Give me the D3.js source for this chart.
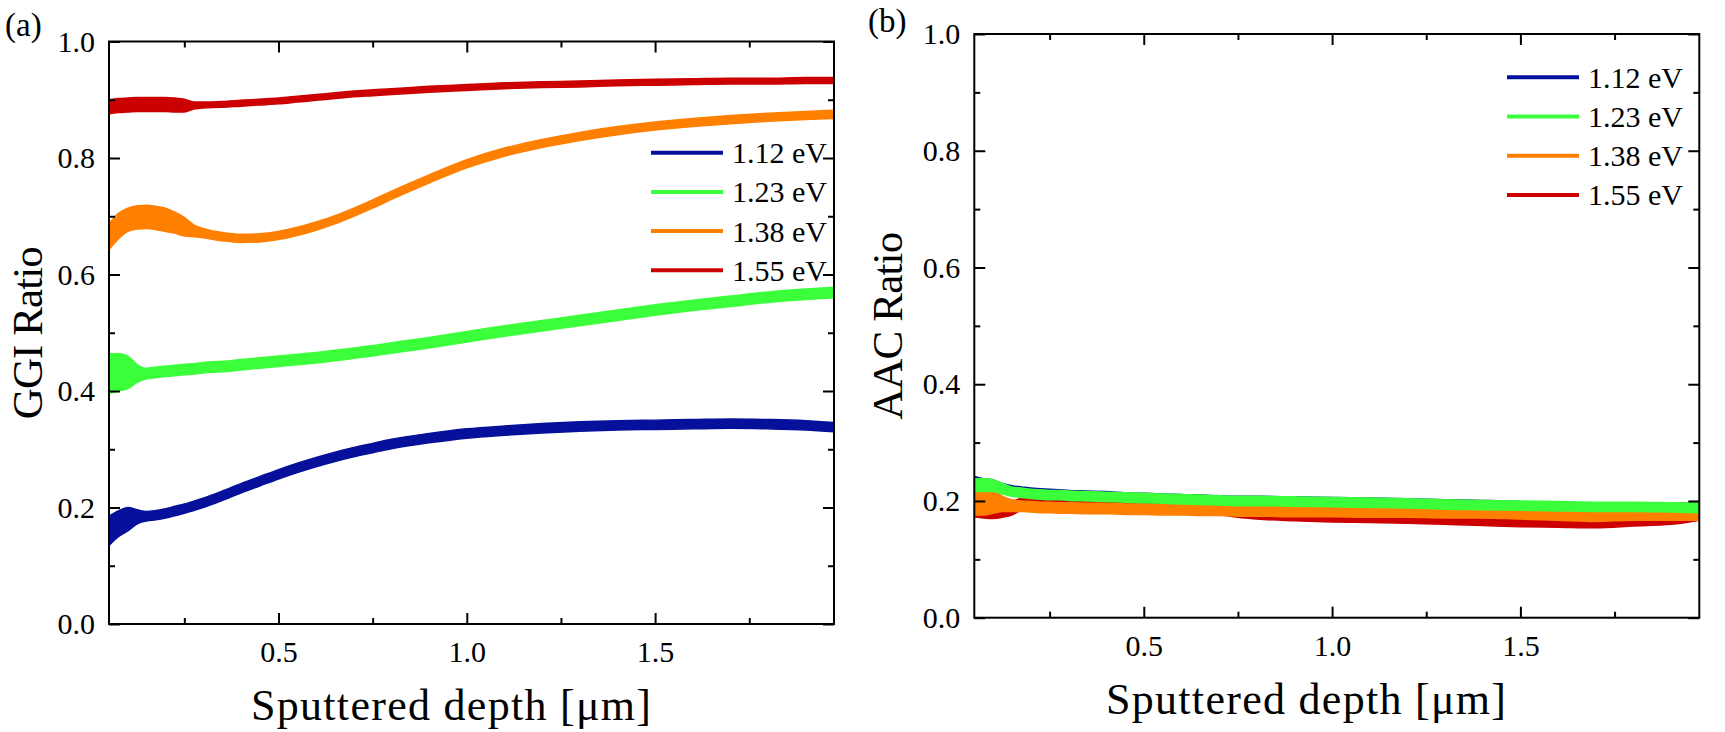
<!DOCTYPE html>
<html>
<head>
<meta charset="utf-8">
<script src="https://cdn.jsdelivr.net/npm/d3@7/dist/d3.min.js"></script>
<style>
  body { margin: 0; background: #fff; }
  svg text { font-family: "Liberation Serif", "Times New Roman", serif; fill: #000; }
</style>
</head>
<body>
<div id="chart"></div>
<script>
// Depth-profile ratios (GGI and AAC) for four band-gap samples
// Each series: centre value + half-width of the noisy band

// Sputtered depth [um] sample positions shared by every series
const depth = [0.05, 0.075, 0.1, 0.125, 0.15, 0.175, 0.2, 0.225, 0.25, 0.275, 0.3, 0.35, 0.4, 0.45, 0.5,
    0.55, 0.6, 0.65, 0.7, 0.75, 0.8, 0.9, 1.0, 1.1, 1.2, 1.3, 1.4, 1.5, 1.6, 1.7, 1.8, 1.9, 1.975];

const seriesNames = ["1.12 eV", "1.23 eV", "1.38 eV", "1.55 eV"];
const seriesColors = ["#06109a", "#3cff3c", "#ff8000", "#cc0000"];

// (a) GGI ratio
const ggi112 = [0.160, 0.172, 0.180, 0.184, 0.185, 0.187, 0.190, 0.194, 0.198, 0.203, 0.208, 0.220, 0.233, 0.245, 0.257,
    0.268, 0.278, 0.287, 0.295, 0.302, 0.309, 0.319, 0.327, 0.332, 0.336, 0.339, 0.341, 0.342, 0.343, 0.344, 0.343, 0.341, 0.338];
const ggi123 = [0.430, 0.432, 0.432, 0.430, 0.430, 0.432, 0.434, 0.435, 0.437, 0.438, 0.440, 0.442, 0.445, 0.448, 0.451,
    0.454, 0.457, 0.461, 0.465, 0.469, 0.474, 0.483, 0.493, 0.503, 0.512, 0.521, 0.530, 0.539, 0.547, 0.554, 0.561, 0.566, 0.569];
const ggi138 = [0.665, 0.683, 0.694, 0.698, 0.699, 0.697, 0.694, 0.689, 0.682, 0.675, 0.671, 0.665, 0.662, 0.663, 0.667,
    0.674, 0.683, 0.694, 0.707, 0.721, 0.736, 0.764, 0.790, 0.810, 0.825, 0.837, 0.847, 0.855, 0.861, 0.866, 0.870, 0.873, 0.875];
const ggi155 = [0.888, 0.890, 0.891, 0.892, 0.892, 0.892, 0.892, 0.891, 0.890, 0.890, 0.891, 0.892, 0.894, 0.896, 0.898,
    0.901, 0.904, 0.907, 0.910, 0.912, 0.914, 0.918, 0.921, 0.924, 0.926, 0.927, 0.929, 0.930, 0.931, 0.932, 0.932, 0.933, 0.933];

const ggiNoise112 = [0.025, 0.022, 0.020, 0.012, 0.008, 0.008, 0.008, 0.008, 0.008, 0.008, 0.008, 0.008, 0.008, 0.008, 0.008,
    0.008, 0.008, 0.008, 0.008, 0.008, 0.008, 0.008, 0.008, 0.008, 0.008, 0.008, 0.008, 0.008, 0.008, 0.008, 0.008, 0.008, 0.008];
const ggiNoise123 = [0.034, 0.032, 0.028, 0.015, 0.009, 0.009, 0.009, 0.009, 0.009, 0.009, 0.009, 0.009, 0.009, 0.009, 0.009,
    0.009, 0.009, 0.009, 0.009, 0.009, 0.009, 0.009, 0.009, 0.009, 0.009, 0.009, 0.009, 0.009, 0.009, 0.009, 0.009, 0.009, 0.009];
const ggiNoise138 = [0.022, 0.022, 0.020, 0.020, 0.020, 0.020, 0.020, 0.018, 0.016, 0.010, 0.008, 0.007, 0.007, 0.007, 0.007,
    0.007, 0.007, 0.007, 0.007, 0.007, 0.007, 0.007, 0.007, 0.007, 0.007, 0.007, 0.007, 0.007, 0.007, 0.007, 0.007, 0.007, 0.007];
const ggiNoise155 = [0.012, 0.012, 0.012, 0.012, 0.012, 0.012, 0.012, 0.012, 0.011, 0.006, 0.005, 0.005, 0.005, 0.005, 0.005,
    0.005, 0.005, 0.005, 0.005, 0.005, 0.005, 0.005, 0.005, 0.005, 0.005, 0.005, 0.005, 0.005, 0.005, 0.005, 0.005, 0.005, 0.005];

// (b) AAC ratio
const aac112 = [0.232, 0.228, 0.227, 0.222, 0.218, 0.216, 0.214, 0.213, 0.212, 0.211, 0.210, 0.209, 0.208, 0.206, 0.205,
    0.204, 0.203, 0.202, 0.201, 0.200, 0.200, 0.199, 0.198, 0.197, 0.196, 0.194, 0.193, 0.191, 0.186, 0.185, 0.189, 0.189, 0.188];
const aac123 = [0.227, 0.227, 0.226, 0.221, 0.216, 0.214, 0.212, 0.211, 0.210, 0.210, 0.209, 0.208, 0.207, 0.206, 0.205,
    0.204, 0.203, 0.202, 0.201, 0.200, 0.200, 0.199, 0.198, 0.197, 0.196, 0.194, 0.193, 0.192, 0.191, 0.190, 0.190, 0.189, 0.188];
const aac138 = [0.205, 0.203, 0.199, 0.195, 0.192, 0.191, 0.190, 0.189, 0.189, 0.188, 0.188, 0.187, 0.187, 0.186, 0.186,
    0.185, 0.185, 0.184, 0.184, 0.183, 0.183, 0.182, 0.182, 0.181, 0.181, 0.180, 0.180, 0.178, 0.176, 0.174, 0.176, 0.176, 0.176];
const aac155 = [0.187, 0.185, 0.184, 0.186, 0.188, 0.195, 0.203, 0.203, 0.202, 0.202, 0.201, 0.200, 0.199, 0.197, 0.196,
    0.195, 0.193, 0.190, 0.186, 0.181, 0.178, 0.175, 0.173, 0.172, 0.171, 0.169, 0.167, 0.165, 0.164, 0.163, 0.166, 0.169, 0.176];

const aacNoise112 = [0.010, 0.010, 0.009, 0.008, 0.008, 0.008, 0.008, 0.008, 0.008, 0.008, 0.008, 0.008, 0.008, 0.008, 0.008,
    0.008, 0.008, 0.008, 0.008, 0.008, 0.008, 0.008, 0.008, 0.008, 0.008, 0.008, 0.008, 0.008, 0.008, 0.008, 0.008, 0.008, 0.008];
const aacNoise123 = [0.011, 0.011, 0.010, 0.009, 0.008, 0.008, 0.008, 0.008, 0.008, 0.008, 0.008, 0.008, 0.008, 0.008, 0.008,
    0.008, 0.008, 0.008, 0.008, 0.008, 0.008, 0.008, 0.008, 0.008, 0.008, 0.008, 0.008, 0.008, 0.008, 0.008, 0.008, 0.008, 0.008];
const aacNoise138 = [0.029, 0.027, 0.020, 0.013, 0.010, 0.009, 0.009, 0.009, 0.009, 0.009, 0.009, 0.009, 0.009, 0.009, 0.009,
    0.009, 0.009, 0.009, 0.009, 0.009, 0.009, 0.009, 0.009, 0.009, 0.009, 0.009, 0.009, 0.009, 0.009, 0.009, 0.009, 0.009, 0.009];
const aacNoise155 = [0.014, 0.014, 0.014, 0.014, 0.012, 0.010, 0.009, 0.009, 0.009, 0.009, 0.009, 0.009, 0.009, 0.009, 0.009,
    0.009, 0.009, 0.009, 0.009, 0.009, 0.009, 0.009, 0.009, 0.009, 0.009, 0.009, 0.009, 0.009, 0.009, 0.009, 0.009, 0.009, 0.009];

// Axis ticks
const xMajor = [0.5, 1.0, 1.5];
const xMinor = [0.25, 0.75, 1.25, 1.75];
const yMajor = [0.0, 0.2, 0.4, 0.6, 0.8, 1.0];
const yMinor = [0.1, 0.3, 0.5, 0.7, 0.9];

const width = 1725;
const height = 732;

const svg = d3.select("#chart")
    .append("svg")
    .attr("width", width)
    .attr("height", height);

// Draw one panel of the figure
function drawPanel(p) {
    const x = d3.scaleLinear().domain([0.05, 1.975]).range([p.left, p.right]);
    const y = d3.scaleLinear().domain([0, 1]).range([p.bottom, p.top]);
    const g = svg.append("g");

    // clip so the noisy bands stay inside the frame
    g.append("clipPath").attr("id", "clip-" + p.id)
        .append("rect")
        .attr("x", p.left).attr("y", p.top)
        .attr("width", p.right - p.left).attr("height", p.bottom - p.top);

    const area = d3.area()
        .x(d => x(d.x))
        .y0(d => y(d.v - d.s))
        .y1(d => y(d.v + d.s))
        .curve(d3.curveMonotoneX);

    const plot = g.append("g").attr("clip-path", "url(#clip-" + p.id + ")");
    p.order.forEach(function (i) {
        const rows = depth.map((dx, k) => ({ x: dx, v: p.values[i][k], s: p.noise[i][k] }));
        plot.append("path")
            .datum(rows)
            .attr("d", area)
            .attr("fill", seriesColors[i])
            .attr("stroke", seriesColors[i])
            .attr("stroke-width", 1.5)
            .attr("stroke-linejoin", "round");
    });

    // axes: labelled bottom/left, mirrored ticks on top/right, all pointing inward
    const fmt = d3.format(".1f");
    const axes = [
        [d3.axisBottom(x).tickValues(xMajor).tickSize(-11).tickPadding(17).tickFormat(fmt), p.bottom, 0],
        [d3.axisBottom(x).tickValues(xMinor).tickSize(-6).tickFormat(""), p.bottom, 0],
        [d3.axisTop(x).tickValues(xMajor).tickSize(-11).tickFormat(""), p.top, 0],
        [d3.axisTop(x).tickValues(xMinor).tickSize(-6).tickFormat(""), p.top, 0],
        [d3.axisLeft(y).tickValues(yMajor).tickSize(-11).tickPadding(14).tickFormat(fmt), 0, p.left],
        [d3.axisLeft(y).tickValues(yMinor).tickSize(-6).tickFormat(""), 0, p.left],
        [d3.axisRight(y).tickValues(yMajor).tickSize(-11).tickFormat(""), 0, p.right],
        [d3.axisRight(y).tickValues(yMinor).tickSize(-6).tickFormat(""), 0, p.right]
    ];
    axes.forEach(function (a) {
        const ax = g.append("g")
            .attr("transform", "translate(" + a[2] + "," + a[1] + ")")
            .call(a[0]);
        ax.select(".domain").remove();
        ax.selectAll("line").attr("stroke", "#000").attr("stroke-width", 2);
        ax.selectAll("text")
            .style("font-family", "'Liberation Serif', serif")
            .style("font-size", "30px")
            .attr("fill", "#000");
    });

    // frame
    g.append("rect")
        .attr("x", p.left).attr("y", p.top)
        .attr("width", p.right - p.left).attr("height", p.bottom - p.top)
        .attr("fill", "none")
        .attr("stroke", "#000")
        .attr("stroke-width", 2);

    // axis titles
    g.append("text")
        .attr("x", p.xTitleX)
        .attr("y", p.bottom + 96)
        .attr("text-anchor", "middle")
        .attr("textLength", 400)
        .attr("lengthAdjust", "spacing")
        .style("font-size", "44px")
        .text("Sputtered depth [\u03bcm]");

    g.append("text")
        .attr("transform", "translate(" + p.yTitleX + "," + ((p.top + p.bottom) / 2) + ") rotate(-90)")
        .attr("text-anchor", "middle")
        .attr("textLength", p.yTitleLen)
        .attr("lengthAdjust", "spacing")
        .style("font-size", "43px")
        .text(p.yTitle);

    // panel label
    g.append("text")
        .attr("x", p.labelX)
        .attr("y", p.labelY)
        .style("font-size", "33px")
        .text(p.label);

    // legend
    const legend = g.append("g");
    seriesNames.forEach(function (name, i) {
        const ly = p.legendY + i * 39.2;
        legend.append("line")
            .attr("x1", p.legendX).attr("x2", p.legendX + 72)
            .attr("y1", ly).attr("y2", ly)
            .attr("stroke", seriesColors[i])
            .attr("stroke-width", 4);
        legend.append("text")
            .attr("x", p.legendX + 81)
            .attr("y", ly + 10.5)
            .style("font-size", "30px")
            .text(name);
    });
}

drawPanel({
    id: "a", left: 109, right: 834, top: 41.5, bottom: 624,
    values: [ggi112, ggi123, ggi138, ggi155],
    noise: [ggiNoise112, ggiNoise123, ggiNoise138, ggiNoise155],
    order: [0, 1, 2, 3],
    yTitle: "GGI Ratio", yTitleX: 42, yTitleLen: 173,
    xTitleX: 451,
    label: "(a)", labelX: 5, labelY: 36,
    legendX: 651, legendY: 152.7
});

drawPanel({
    id: "b", left: 974.3, right: 1699.3, top: 34, bottom: 617.7,
    values: [aac112, aac123, aac138, aac155],
    noise: [aacNoise112, aacNoise123, aacNoise138, aacNoise155],
    order: [0, 3, 2, 1],
    yTitle: "AAC Ratio", yTitleX: 902, yTitleLen: 188,
    xTitleX: 1306,
    label: "(b)", labelX: 868, labelY: 32,
    legendX: 1507, legendY: 77.3
});
</script>
</body>
</html>
